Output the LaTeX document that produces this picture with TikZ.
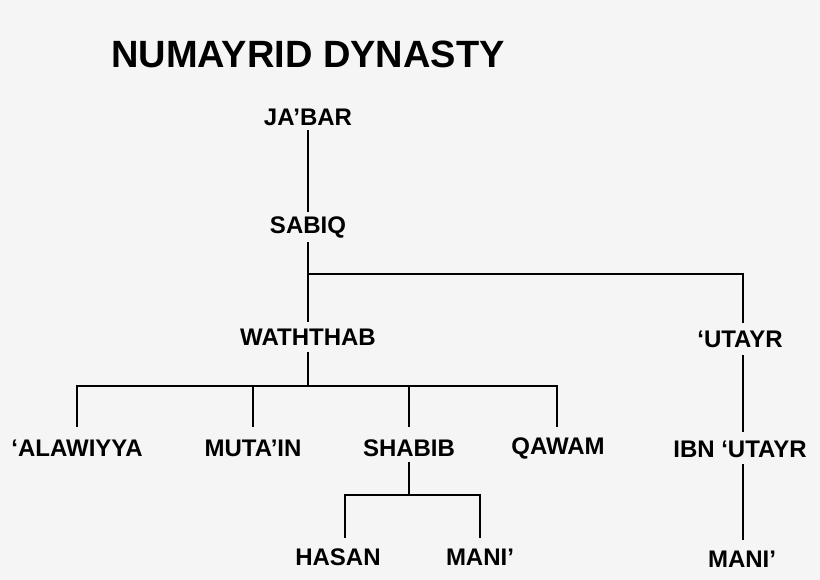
\documentclass[tikz,border=0pt]{standalone}
\usepackage{fontspec}
\setmainfont{Liberation Sans}
\begin{document}
\begin{tikzpicture}[x=1pt,y=-1pt,
  nm/.style={font=\bfseries\fontsize{24}{26}\selectfont, inner sep=0pt},
  ln/.style={line width=2.8pt}]
\fill[gray!8] (0,0) rectangle (820,580);
\useasboundingbox (0,0) rectangle (820,580);
\node[font=\bfseries\fontsize{38}{40}\selectfont, inner sep=0pt] (t) at (308,54) {NUMAYRID DYNASTY};
\node[nm] (jabar) at (308,117) {JA’BAR};
\node[nm] (sabiq) at (308,227) {SABIQ};
\node[nm] (wath) at (308,337) {WATHTHAB};
\node[nm] (utayr) at (740,339) {‘UTAYR};
\node[nm] (alaw) at (77,448) {‘ALAWIYYA};
\node[nm] (muta) at (253,448) {MUTA’IN};
\node[nm] (shab) at (409,448) {SHABIB};
\node[nm] (qawam) at (558,448) {QAWAM};
\node[nm] (ibn) at (740,449) {IBN ‘UTAYR};
\node[nm] (hasan) at (338,557) {HASAN};
\node[nm] (mani1) at (480,557) {MANI’};
\node[nm] (mani2) at (742,559) {MANI’};
\coordinate (j) at (308,130);
\coordinate (s1) at (308,212);
\coordinate (s2) at (308,242);
\coordinate (b1) at (308,274);
\coordinate (w1) at (308,322);
\coordinate (w2) at (308,352);
\coordinate (b2) at (308,386);
\coordinate (u1) at (743,323);
\coordinate (u2) at (743,355);
\coordinate (i1) at (743,432);
\coordinate (i2) at (743,464);
\coordinate (m2) at (743,540);
\coordinate (dl) at (77,427);
\coordinate (dm) at (253,427);
\coordinate (ds) at (409,427);
\coordinate (dq) at (557,427);
\coordinate (s3) at (409,462);
\coordinate (b3) at (409,495);
\coordinate (dh) at (345,538);
\coordinate (dn) at (480,538);
\draw[ln] (j) -- (s1);
\draw[ln] (s2) -- (w1);
\draw[ln] (b1) -| (u1);
\draw[ln] (w2) -- (b2);
\draw[ln] (dl) |- (b2) -| (dq);
\draw[ln] (b2 -| dm) -- (dm);
\draw[ln] (b2 -| ds) -- (ds);
\draw[ln] (s3) -- (b3);
\draw[ln] (dh) |- (b3) -| (dn);
\draw[ln] (u2) -- (i1);
\draw[ln] (i2) -- (m2);
\end{tikzpicture}
\end{document}
